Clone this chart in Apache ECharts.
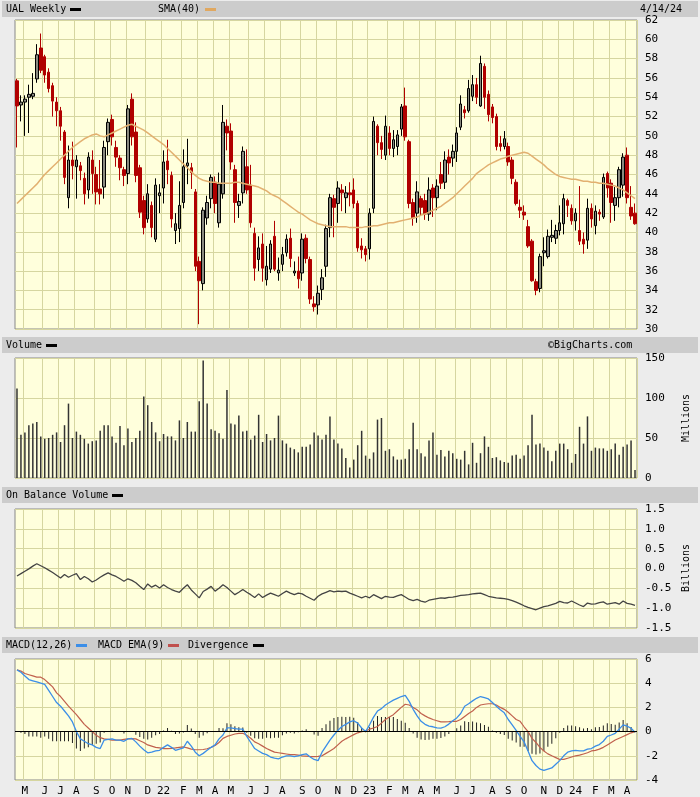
<!DOCTYPE html>
<html><head><meta charset="utf-8">
<script src="https://cdn.jsdelivr.net/npm/echarts@6/dist/echarts.min.js"></script>
<style>html,body{margin:0;padding:0;background:#ececec;}#c{width:700px;height:797px;}</style>
</head><body><div id="c"></div>
<script>
const startDate = '2021-04-19';
const opens = [55.7,53.2,53.5,54.0,54.1,55.9,59.1,58.2,56.6,55.2,53.5,52.6,50.4,43.6,47.5,46.8,46.9,45.6,44.4,47.5,46.0,44.5,44.7,49.4,51.7,48.8,47.7,46.5,46.1,53.8,50.4,46.7,43.3,41.4,42.8,39.3,43.8,44.6,47.4,45.9,40.2,40.4,43.1,46.9,46.7,44.2,37.0,34.7,41.5,43.5,45.2,41.0,44.0,51.0,50.5,46.5,42.8,44.1,46.8,44.9,39.9,37.2,38.8,35.1,36.2,39.6,35.8,36.7,37.9,39.4,35.8,36.0,35.8,39.4,37.2,32.6,32.5,34.1,36.5,40.5,43.5,43.0,44.4,43.6,44.1,44.4,43.0,38.6,38.3,38.3,42.5,51.0,49.3,48.0,50.3,48.7,48.9,50.7,53.1,49.4,43.1,42.0,43.5,43.3,41.9,44.6,43.6,46.0,45.2,47.8,47.7,48.4,50.9,52.7,52.6,54.1,55.3,53.1,57.2,54.3,53.0,52.0,49.2,48.9,48.9,47.5,45.2,42.6,42.1,40.6,39.1,34.9,34.2,37.9,37.5,39.5,39.4,40.2,40.9,43.3,42.5,41.2,40.2,39.3,39.2,42.5,40.7,42.1,41.6,46.1,45.1,42.8,43.6,44.9,48.0,42.6,42.0];
const closes = [53.1,53.5,53.8,54.3,54.4,58.4,56.8,56.3,54.9,53.6,52.6,51.0,45.7,47.5,46.9,47.5,46.4,44.0,47.8,46.1,44.2,44.0,48.8,51.4,49.9,47.8,46.7,45.9,52.8,49.9,45.9,42.1,40.5,44.0,40.5,44.9,44.1,47.3,46.5,41.4,40.9,42.8,46.8,47.2,46.2,36.5,35.0,42.3,43.1,45.7,43.0,45.0,51.4,50.3,47.3,43.1,43.2,48.4,44.4,41.0,36.3,38.4,36.3,36.5,38.8,36.2,36.1,37.7,39.3,37.3,36.0,35.2,39.3,37.3,33.1,32.3,33.7,35.3,40.4,43.6,42.6,44.6,44.1,44.1,43.9,43.0,38.4,38.2,37.7,42.0,51.5,49.3,48.6,51.0,48.7,49.6,50.1,53.0,49.9,43.0,41.5,44.2,42.6,41.9,44.4,43.6,44.8,45.1,47.5,47.2,48.4,50.3,53.3,52.4,54.9,55.3,54.0,57.5,54.0,52.2,51.9,48.9,48.9,49.7,47.3,45.6,43.0,42.3,41.8,38.6,35.0,34.0,37.5,38.1,39.6,39.7,40.2,41.0,43.5,42.8,41.2,42.0,39.1,38.8,42.5,41.4,42.2,41.9,45.7,44.6,43.1,43.6,46.5,47.8,43.6,41.7,40.9];
const highs = [55.9,54.2,54.2,55.3,56.5,59.5,60.6,58.4,57.0,55.5,54.0,53.0,50.6,49.0,49.4,48.0,47.3,46.2,48.3,48.5,46.8,47.5,49.5,51.8,52.2,49.5,48.0,46.8,53.2,54.4,51.4,47.0,43.8,45.0,43.2,45.6,45.0,48.5,49.6,46.3,42.0,45.3,48.6,49.7,47.2,44.5,37.5,42.6,43.8,46.0,45.8,46.2,53.2,51.7,51.3,47.0,44.0,48.9,48.6,47.0,40.5,39.6,39.9,38.6,39.2,41.2,37.4,38.5,39.8,40.4,37.0,37.5,39.9,39.8,37.5,33.4,34.5,36.2,40.8,44.0,43.9,45.3,45.0,44.8,45.2,45.6,43.3,39.4,38.6,42.5,52.0,51.2,50.0,52.1,51.0,50.6,50.6,53.3,55.0,49.6,43.5,45.3,43.8,44.0,45.7,45.0,45.5,47.3,48.4,48.6,49.1,50.9,54.2,53.1,55.8,56.3,56.0,58.3,57.5,54.7,53.3,52.3,50.0,50.5,49.3,47.8,45.5,43.4,42.8,41.3,39.3,35.2,37.8,39.5,40.3,41.3,40.8,42.8,44.0,43.5,42.9,42.5,44.8,40.0,43.5,43.0,42.8,42.4,46.1,46.3,45.5,44.7,46.8,48.2,48.8,44.8,43.0];
const lows = [48.8,51.5,50.0,50.3,53.8,55.5,56.5,55.5,54.5,52.0,51.0,49.5,45.0,42.5,45.5,43.5,45.4,42.9,43.5,44.0,42.9,42.9,43.5,48.0,49.0,46.8,45.4,44.8,45.0,49.0,45.2,41.5,39.8,41.0,39.5,39.0,42.0,43.0,45.0,40.5,38.8,39.0,42.5,45.0,44.5,36.0,30.5,34.0,40.8,42.5,42.0,40.5,43.5,48.5,46.5,41.0,41.5,43.0,44.0,40.5,35.0,36.0,34.9,34.5,35.8,36.0,35.0,36.0,37.5,36.4,35.5,34.2,35.0,36.8,32.6,31.8,31.5,33.0,35.4,39.5,39.5,41.0,42.2,42.0,42.7,42.5,38.0,37.3,37.0,37.2,42.0,48.0,47.6,47.5,48.0,47.8,48.0,50.0,49.5,42.5,40.7,41.0,41.7,41.3,41.2,41.6,42.3,44.5,44.5,46.0,46.8,47.3,50.6,51.8,52.4,53.6,53.3,53.0,52.8,51.5,51.3,48.5,48.4,48.6,46.9,45.0,42.8,41.5,41.3,38.4,34.9,33.5,33.8,36.5,37.3,39.0,38.8,39.7,39.8,41.6,40.8,40.2,38.7,37.8,38.3,40.5,39.8,41.2,41.4,43.6,41.0,41.2,42.6,43.7,43.0,41.3,40.8];
const sma40 = [43.0,43.4,43.8,44.2,44.6,45.0,45.5,46.0,46.4,46.8,47.2,47.6,48.0,48.4,48.8,49.1,49.4,49.7,49.9,50.1,50.2,50.0,49.9,50.1,50.3,50.5,50.7,50.9,51.1,51.2,51.0,50.8,50.6,50.3,50.0,49.7,49.4,49.1,48.7,48.3,47.9,47.5,47.1,46.7,46.3,45.9,45.6,45.4,45.3,45.2,45.2,45.1,45.1,45.1,45.1,45.2,45.2,45.1,45.0,44.9,44.8,44.7,44.5,44.3,44.0,43.8,43.6,43.3,43.0,42.7,42.4,42.1,41.9,41.6,41.3,41.1,40.9,40.8,40.7,40.6,40.6,40.6,40.6,40.6,40.5,40.5,40.5,40.5,40.6,40.6,40.7,40.7,40.8,40.9,41.0,41.0,41.1,41.2,41.3,41.4,41.5,41.6,41.8,41.9,42.1,42.3,42.5,42.7,43.0,43.3,43.6,44.0,44.4,44.8,45.2,45.6,46.1,46.4,46.7,47.0,47.2,47.4,47.6,47.7,47.9,48.0,48.1,48.2,48.3,48.2,47.9,47.6,47.3,47.0,46.6,46.3,46.0,45.8,45.7,45.6,45.5,45.5,45.4,45.3,45.3,45.2,45.2,45.1,45.1,45.0,44.9,44.8,44.6,44.4,44.1,43.8,43.5];
const volumeM = [112,54,57,66,68,70,52,49,50,54,57,45,66,93,50,58,54,49,43,46,47,59,66,66,52,44,65,41,62,45,50,59,102,91,70,57,46,55,52,52,47,72,50,70,58,58,96,147,93,61,59,56,49,110,68,67,78,58,59,48,53,79,45,55,47,50,78,47,43,38,36,32,39,39,42,57,53,48,54,77,48,43,37,25,13,23,41,59,28,24,32,73,75,34,36,27,23,23,24,36,69,36,31,27,47,57,29,35,27,34,31,24,23,34,17,44,19,31,52,39,25,26,22,20,19,28,29,24,28,41,79,42,43,38,34,21,34,43,43,36,19,30,64,43,77,34,38,37,37,34,36,43,29,39,42,47,10];
const obvB = [-0.19,-0.13,-0.07,-0.01,0.06,0.12,0.07,0.02,-0.04,-0.1,-0.17,-0.24,-0.15,-0.22,-0.17,-0.13,-0.28,-0.2,-0.26,-0.34,-0.29,-0.22,-0.16,-0.11,-0.16,-0.2,-0.26,-0.32,-0.26,-0.3,-0.36,-0.45,-0.53,-0.39,-0.47,-0.42,-0.49,-0.41,-0.48,-0.53,-0.57,-0.6,-0.5,-0.41,-0.54,-0.64,-0.74,-0.58,-0.52,-0.45,-0.57,-0.5,-0.41,-0.48,-0.57,-0.66,-0.6,-0.53,-0.6,-0.66,-0.73,-0.64,-0.73,-0.67,-0.62,-0.66,-0.7,-0.63,-0.57,-0.62,-0.66,-0.62,-0.64,-0.7,-0.75,-0.8,-0.7,-0.64,-0.6,-0.56,-0.59,-0.57,-0.58,-0.57,-0.62,-0.66,-0.7,-0.74,-0.7,-0.74,-0.66,-0.71,-0.76,-0.7,-0.72,-0.73,-0.69,-0.66,-0.72,-0.78,-0.81,-0.78,-0.82,-0.85,-0.8,-0.78,-0.76,-0.74,-0.75,-0.73,-0.72,-0.7,-0.68,-0.67,-0.66,-0.64,-0.63,-0.62,-0.66,-0.7,-0.72,-0.74,-0.75,-0.76,-0.78,-0.81,-0.85,-0.89,-0.94,-0.98,-1.01,-1.04,-1.0,-0.96,-0.94,-0.91,-0.88,-0.83,-0.86,-0.87,-0.82,-0.87,-0.92,-0.96,-0.87,-0.9,-0.89,-0.86,-0.84,-0.9,-0.88,-0.86,-0.9,-0.82,-0.88,-0.9,-0.93];
const macd = [5.1,4.9,4.6,4.3,4.2,4.1,4.0,3.9,3.4,2.9,2.4,2.1,1.7,1.3,0.8,0.0,-0.6,-0.8,-1.0,-1.1,-1.3,-1.4,-0.7,-0.65,-0.6,-0.7,-0.7,-0.8,-0.6,-0.56,-0.85,-1.2,-1.5,-1.75,-1.7,-1.6,-1.55,-1.3,-1.1,-1.3,-1.55,-1.45,-1.35,-0.8,-1.2,-1.7,-2.0,-1.8,-1.55,-1.3,-1.1,-0.6,-0.28,0.3,0.3,0.25,0.2,0.2,-0.4,-0.9,-1.4,-1.6,-1.8,-1.9,-2.1,-2.2,-2.26,-2.1,-2.0,-2.0,-2.06,-2.0,-1.9,-1.84,-2.1,-2.3,-2.4,-1.7,-1.2,-0.7,-0.28,0.1,0.42,0.6,0.8,0.9,0.7,0.3,0.0,0.56,1.2,1.7,1.9,2.2,2.4,2.6,2.75,2.9,3.0,2.5,1.84,1.3,0.85,0.6,0.45,0.4,0.3,0.28,0.4,0.62,0.9,1.13,1.5,2.1,2.3,2.54,2.75,2.9,2.8,2.7,2.4,2.1,1.8,1.55,1.0,0.56,0.1,-0.4,-0.85,-1.6,-2.4,-2.8,-3.1,-3.2,-3.1,-3.0,-2.7,-2.4,-2.0,-1.7,-1.6,-1.55,-1.6,-1.6,-1.45,-1.4,-1.2,-1.07,-0.8,-0.4,-0.28,-0.14,0.2,0.56,0.45,0.28,-0.05];
const signal = [5.1,5.0,4.8,4.7,4.6,4.5,4.5,4.3,4.0,3.7,3.2,2.9,2.5,2.1,1.75,1.4,1.0,0.6,0.3,0.0,-0.3,-0.5,-0.6,-0.65,-0.7,-0.7,-0.7,-0.65,-0.6,-0.58,-0.6,-0.75,-0.9,-1.1,-1.2,-1.3,-1.35,-1.4,-1.4,-1.38,-1.35,-1.3,-1.27,-1.35,-1.45,-1.5,-1.5,-1.48,-1.42,-1.3,-1.15,-0.9,-0.56,-0.4,-0.3,-0.2,-0.15,-0.14,-0.3,-0.55,-0.85,-1.0,-1.2,-1.4,-1.55,-1.7,-1.75,-1.8,-1.85,-1.9,-1.9,-1.95,-2.0,-2.03,-2.06,-2.06,-2.05,-2.0,-1.8,-1.6,-1.4,-1.1,-0.8,-0.6,-0.42,-0.25,-0.1,0.0,0.05,0.2,0.3,0.42,0.7,1.0,1.2,1.4,1.7,2.0,2.26,2.2,2.0,1.8,1.5,1.3,1.13,1.0,0.9,0.8,0.8,0.82,0.85,0.85,1.0,1.25,1.5,1.7,2.0,2.2,2.26,2.3,2.3,2.2,2.0,1.84,1.6,1.3,1.0,0.85,0.4,0.0,-0.56,-0.9,-1.3,-1.6,-1.84,-2.0,-2.15,-2.3,-2.3,-2.2,-2.1,-2.0,-1.95,-1.85,-1.75,-1.6,-1.55,-1.45,-1.3,-1.1,-0.9,-0.7,-0.55,-0.4,-0.25,-0.1,0.0];
const priceTicks = [30,32,34,36,38,40,42,44,46,48,50,52,54,56,58,60,62];

const N = closes.length;
const dates = [];
{ const d0 = new Date(startDate + 'T00:00:00Z');
  for (let i = 0; i < N; i++) { const d = new Date(d0.getTime() + i*7*86400000); dates.push(d.toISOString().slice(0,10)); } }
const MON = ['J','F','M','A','M','J','J','A','S','O','N','D'];
function isMonthStart(i){ if(i===0) return false; return dates[i].slice(5,7)!==dates[i-1].slice(5,7); }
function monLabel(v,i){ const m=+v.slice(5,7); if(m===1) return v.slice(2,4); return MON[m-1]; }
const candles = opens.map((o,i)=>[o,closes[i],lows[i],highs[i]]);
const diverg = macd.map((m,i)=>+(m-signal[i]).toFixed(2));

const L=15, R=63;
const grids=[{left:L,right:R,top:20,height:309},{left:L,right:R,top:358,height:120},{left:L,right:R,top:509,height:119},{left:L,right:R,top:659,height:123}];
const gridStyle={show:true,backgroundColor:'#ffffdc',borderColor:'#888',borderWidth:1};
const splitL={show:true,lineStyle:{color:'#d6d6a0',width:1}};
const font='DejaVu Sans Mono';
function xa(gi,showLabel){return {type:'category',gridIndex:gi,data:dates,boundaryGap:true,axisLine:{show:false},axisTick:{show:false},
  axisLabel:{show:showLabel,interval:(i)=>isMonthStart(i),formatter:monLabel,fontFamily:font,fontSize:11,color:'#000',margin:6},
  splitLine:{show:true,interval:(i)=>isMonthStart(i),lineStyle:{color:'#d6d6a0'}}};}
function ya(gi,min,max,interval,fmt){return {type:'value',gridIndex:gi,position:'right',min,max,interval,axisLine:{show:false},axisTick:{show:false},
  axisLabel:{fontFamily:font,fontSize:11,color:'#000',margin:8,formatter:fmt},splitLine:splitL};}

function header(y,items){const g=[{type:'rect',shape:{x:2,y:y,width:696,height:16},style:{fill:'#cccccc'}}];
  items.forEach(it=>{ if(it.t) g.push({type:'text',x:it.x,y:y+3,style:{text:it.t,font:'10px '+font,fill:'#000'}});
    if(it.sw) g.push({type:'rect',shape:{x:it.x,y:y+7,width:11,height:3},style:{fill:it.sw}});});
  return g;}
const graphics=[].concat(
  header(1,[{x:6,t:'UAL Weekly'},{x:70,sw:'#000'},{x:158,t:'SMA(40)'},{x:205,sw:'#e0a860'},{x:640,t:'4/14/24'}]),
  header(337,[{x:6,t:'Volume'},{x:46,sw:'#000'},{x:548,t:'©BigCharts.com'}]),
  header(487,[{x:6,t:'On Balance Volume'},{x:112,sw:'#000'}]),
  header(637,[{x:6,t:'MACD(12,26)'},{x:76,sw:'#3b8ee8'},{x:98,t:'MACD EMA(9)'},{x:168,sw:'#c0504d'},{x:188,t:'Divergence'},{x:253,sw:'#000'}]),
  [{type:'text',x:686,y:418,rotation:Math.PI/2,style:{text:'Millions',font:'10px '+font,fill:'#000',textAlign:'center',textVerticalAlign:'middle'}},
   {type:'text',x:686,y:568,rotation:Math.PI/2,style:{text:'Billions',font:'10px '+font,fill:'#000',textAlign:'center',textVerticalAlign:'middle'}}]
);

const chart=echarts.init(document.getElementById('c'),null,{renderer:'canvas'});
chart.setOption({
  animation:false,backgroundColor:'#ececec',
  grid:grids.map(g=>Object.assign({},g,gridStyle)),
  xAxis:[xa(0,false),xa(1,false),xa(2,false),xa(3,true)],
  yAxis:[ya(0,30,62,2),ya(1,0,150,50),ya(2,-1.5,1.5,0.5,v=>v.toFixed(1)),ya(3,-4,6,2)],
  graphic:graphics,
  series:[
    {type:'candlestick',xAxisIndex:0,yAxisIndex:0,data:candles,barWidth:3,
     itemStyle:{color:'#8a8a80',color0:'#b00000',borderColor:'#000',borderColor0:'#b00000',borderWidth:1}},
    {type:'line',xAxisIndex:0,yAxisIndex:0,data:sma40,showSymbol:false,lineStyle:{color:'#e2b070',width:1.5}},
    {type:'bar',xAxisIndex:1,yAxisIndex:1,data:volumeM,barWidth:1.5,itemStyle:{color:'#333'}},
    {type:'line',xAxisIndex:2,yAxisIndex:2,data:obvB,showSymbol:false,lineStyle:{color:'#444',width:1.3}},
    {type:'bar',xAxisIndex:3,yAxisIndex:3,data:diverg,barWidth:1,itemStyle:{color:'#222'}},
    {type:'line',xAxisIndex:3,yAxisIndex:3,data:signal,showSymbol:false,lineStyle:{color:'#c0604d',width:1.2},
     markLine:{silent:true,symbol:'none',label:{show:false},lineStyle:{color:'#000',width:1,type:'solid'},data:[{yAxis:0}]}},
    {type:'line',xAxisIndex:3,yAxisIndex:3,data:macd,showSymbol:false,lineStyle:{color:'#3b8ee8',width:1.3}}
  ]
});
</script></body></html>
